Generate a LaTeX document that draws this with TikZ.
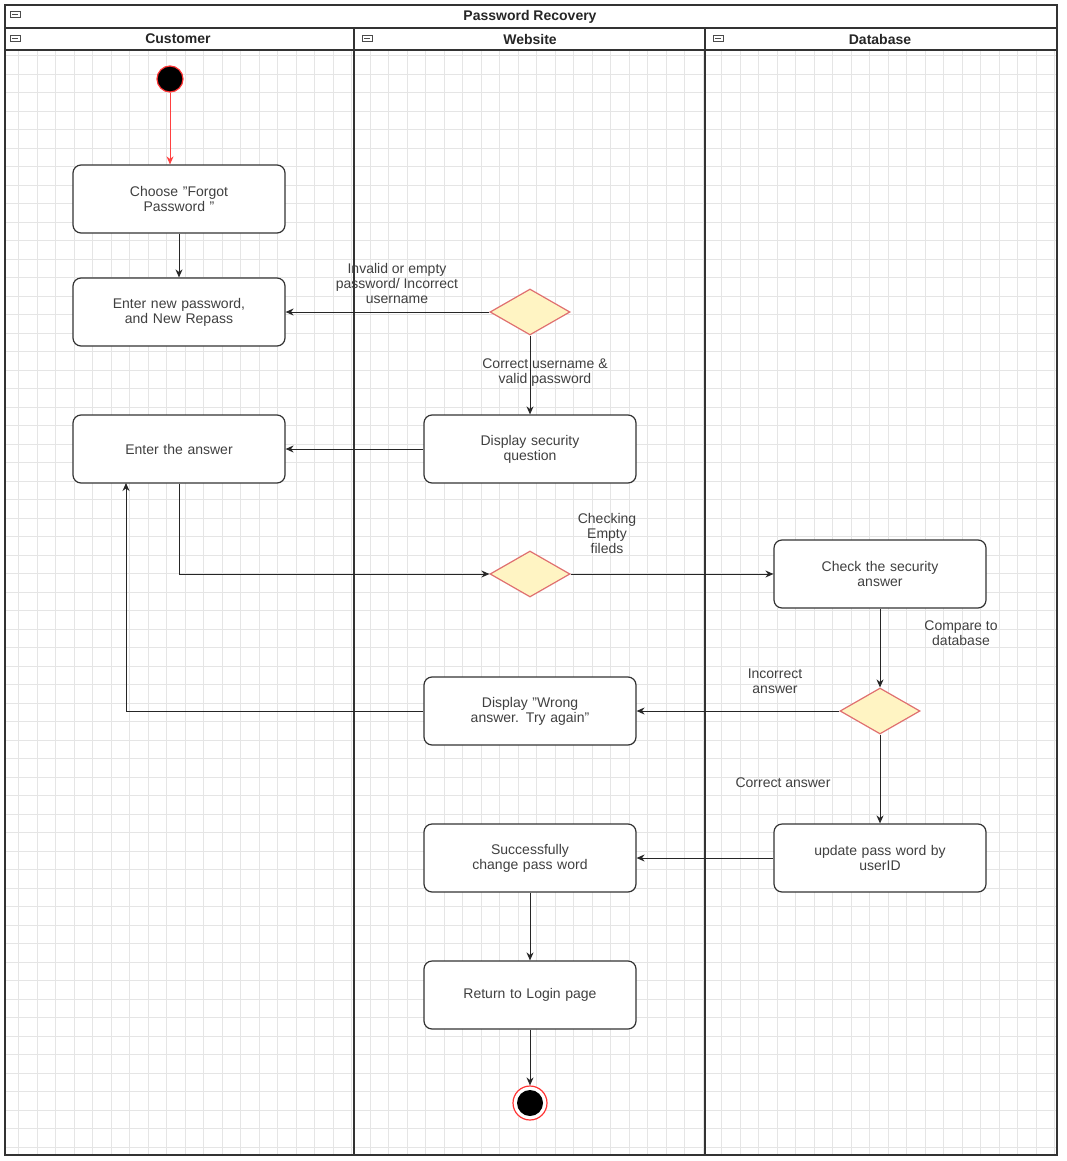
\documentclass[tikz,border=0pt]{standalone}
\usepackage{fontspec}
\setmainfont{Liberation Sans}
\usetikzlibrary{shapes.geometric,arrows.meta}
\definecolor{dfill}{HTML}{FFF4C3}
\definecolor{dline}{HTML}{E07070}
\definecolor{txt}{HTML}{404040}
\begin{document}
\begin{tikzpicture}[x=1pt,y=-1pt,
  box/.style={draw=black!80,line width=1.2pt,rounded corners=8pt,minimum width=212pt,minimum height=68pt,align=center,text width=200pt,text=txt,font=\fontsize{14}{15}\selectfont,fill=white},
  dec/.style={diamond,draw=dline,line width=1.2pt,fill=dfill,minimum width=80pt,minimum height=46pt,inner sep=0pt,aspect=1.74},
  lbl/.style={align=center,text=txt,font=\fontsize{14}{15}\selectfont,inner sep=1pt},
  arr/.style={-{Stealth[length=8pt,width=7pt]},black!85,line width=1pt},
  hdr/.style={font=\bfseries\fontsize{14}{15}\selectfont,text=black!85}]
\useasboundingbox (0,0) rectangle (1067,1161);
\fill[white] (0,0) rectangle (1067,1161);
\draw[black!10,line width=0.4pt,step=18.5pt] (5,50) grid (1057,1155);
\draw[black!80,line width=1.2pt] (5,5) rectangle (1057,1155);
\draw[black!80,line width=1.2pt] (5,28) -- (1057,28) (5,50) -- (1057,50);
\draw[black!80,line width=2pt] (354,28) -- (354,1155) (705,28) -- (705,1155);
\node[hdr] (title) at (530,17) {Password Recovery};
\node[hdr] (hc) at (178,39) {Customer};
\node[hdr] (hw) at (530,39) {Website};
\node[hdr] (hd) at (880,39) {Database};
\foreach \x/\y in {10/14,10/38,362/38,713/38}{\draw[black!70,fill=white] (\x,\y-3) rectangle (\x+10,\y+3); \draw[black!70](\x+2,\y)--(\x+8,\y);}
\node[circle,fill=black,draw=red!80,line width=1.2pt,minimum size=26pt,inner sep=0pt] (start) at (170,79) {};
\node[box] (b1) at (179,199) {Choose "Forgot\\Password "};
\node[box] (b2) at (179,312) {Enter new password,\\and New Repass};
\node[dec] (d1) at (530,312) {};
\node[box] (b3) at (530,449) {Display security\\question};
\node[box] (b4) at (179,449) {Enter the answer};
\node[dec] (d2) at (530,574) {};
\node[box] (b5) at (880,574) {Check the security\\answer};
\node[dec] (d3) at (880,711) {};
\node[box] (b6) at (530,711) {Display "Wrong\\answer. Try again"};
\node[box] (b7) at (880,858) {update pass word by\\userID};
\node[box] (b8) at (530,858) {Successfully\\change pass word};
\node[box] (b9) at (530,995) {Return to Login page};
\node[circle,draw=red!80,line width=1.2pt,minimum size=34pt,inner sep=0pt,fill=white] (endo) at (530,1103) {};
\node[circle,fill=black,minimum size=26pt,inner sep=0pt] (end) at (530,1103) {};
\draw[-{Stealth[length=8pt,width=7pt]},red!75,line width=1pt] (start) -- (b1.north -| start);
\draw[arr] (b1) -- (b2);
\draw[arr] (d1) -- (b2);
\draw[arr] (d1) -- (b3);
\draw[arr] (b3) -- (b4);
\draw[arr] (b4.south) |- (d2.west);
\draw[arr] (d2) -- (b5);
\draw[arr] (b5) -- (d3);
\draw[arr] (d3) -- (b6);
\draw[arr] (b6.west) -| (126,483);
\draw[arr] (d3) -- (b7);
\draw[arr] (b7) -- (b8);
\draw[arr] (b8) -- (b9);
\draw[arr] (b9) -- (endo);
\node[lbl] (l1) at (397,283) {Invalid or empty\\password/ Incorrect\\username};
\node[lbl] (l2) at (545,373) {Correct username \&\\valid password};
\node[lbl] (l3) at (607,533) {Checking\\Empty\\fileds};
\node[lbl] (l4) at (961,633) {Compare to\\database};
\node[lbl] (l5) at (775,681) {Incorrect\\answer};
\node[lbl] (l6) at (783,783) {Correct answer};
\end{tikzpicture}
\end{document}
